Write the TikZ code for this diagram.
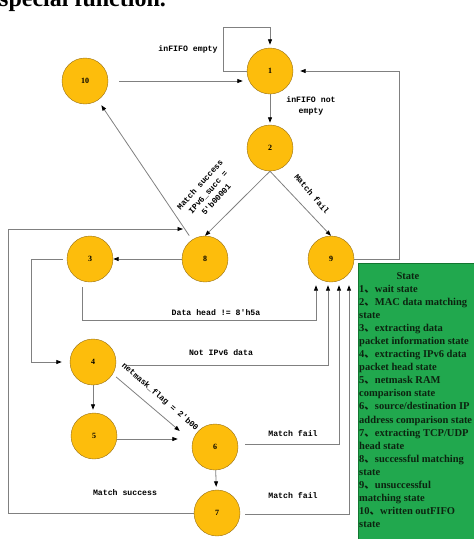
\documentclass[tikz,border=0pt]{standalone}
\usepackage{fontspec}
\setmainfont{Liberation Serif}
\newfontfamily\codefont{Liberation Mono}
\newfontfamily\cjk{Noto Sans CJK SC}
\usepackage{tikz}
\usetikzlibrary{arrows.meta,positioning,calc}
\definecolor{gold}{RGB}{253,189,12}
\definecolor{goldedge}{RGB}{150,110,20}
\definecolor{wire}{RGB}{128,128,128}
\definecolor{legendgreen}{RGB}{33,168,78}
\definecolor{legendedge}{RGB}{18,118,48}
\definecolor{legendink}{RGB}{12,36,16}
\newcommand{\dunhao}{{\cjk 、}}

\begin{document}
\begin{tikzpicture}[x=1pt,y=-1pt,
  fsm/.style={circle,draw=goldedge,fill=gold,minimum size=46pt,inner sep=0pt,font=\bfseries\fontsize{8}{9}\selectfont},
  trans/.style={draw=wire,line width=0.8pt,-{Triangle[length=5.5pt,width=4pt,color=black]}},
  cond/.style={font=\codefont\bfseries\fontsize{8.2}{11}\selectfont,inner sep=1pt,align=center},
  legendline/.style={anchor=base west,inner sep=0pt,text=legendink,font=\bfseries\fontsize{10.5}{12}\selectfont}]
\useasboundingbox (0,0) rectangle (474,539);
\clip (0,0) rectangle (474,539);
\node[anchor=base west,inner sep=0pt,font=\bfseries\fontsize{24}{26}\selectfont] (caption) at (-1,6) {special function.};
\foreach \n/\x/\y in {1/270/71,10/85/81,2/270/148,3/90/259,8/205/259,9/331/259,4/93/362,5/94/436,6/215/447,7/217/513}
   \node[fsm] (s\n) at (\x,\y) {\n};
\draw[trans,shorten >=3pt] (s1.west) -- ++(-23,0) -- ++(0,-44) -| (s1.north);
\node[cond] (lempty) at (188,49) {inFIFO empty};
\draw[trans,shorten <=11pt,shorten >=4pt] (s10.east) -- (s10.east -| s1.west);
\draw[trans,shorten >=2pt] (s1) -- (s2);
\node[cond] (lnotempty) at (311,106) {inFIFO not\\empty};
\draw[trans,shorten >=7pt] (s9.east) -- ++(45,0) |- (s1.east);
\draw[trans] (s2.south) -- (s8.north);
\draw[trans] (s2.south) -- (s9.north);
\node[cond,rotate=48] (lsucc2) at (208,192) {Match success\\IPv6\_succ =\\5'b00001};
\node[cond,rotate=-50] (lfail2) at (312,194) {Match fail};
\draw[trans,shorten <=5pt,shorten >=6pt] (s8) -- (s10);
\draw[trans] (s8) -- (s3);
\coordinate (back8) at (183,229);
\draw[trans] (s7.west) -- ++(-185,0) |- (back8);
\node[cond] (lsucc7) at (125,493) {Match success};
\draw[trans,shorten <=4pt,shorten >=8pt] (s3.west) -- ++(-35,0) |- (s4.west);
\draw[trans] ($(s3.south)+(-8,5)$) -- ++(0,33) -| ($(s9.south)+(-15,3)$);
\node[cond] (lhead) at (216,313) {Data head != 8'h5a};
\draw[trans] ($(s4.east)+(11,3)$) -| ($(s9.south)+(-3,3)$);
\node[cond] (lipv6) at (221,353) {Not IPv6 data};
\draw[trans] ($(s6.east)+(7,-3)$) -| ($(s9.south)+(8,3)$);
\node[cond] (lfail6) at (293,434) {Match fail};
\draw[trans] ($(s7.east)+(5,1)$) -| ($(s9.south)+(18,3)$);
\node[cond] (lfail7) at (293,496) {Match fail};
\draw[trans,shorten >=3pt] (s4.south) -- (s4.south |- s5.north);
\draw[trans,shorten >=14pt] ($(s5.east)+(0,3)$) -- ($(s6.west)+(0,-8)$);
\draw[trans] ($(s4.east)+(0,15)$) -- ($(s6.west)+(-12,-16)$);
\node[cond,rotate=-41] (lmask) at (160,397) {netmask\_flag = 2'b00};
\draw[trans,shorten >=3pt] (s6) -- (s7);
\node[draw=legendedge,fill=legendgreen,line width=0.8pt,anchor=north west,minimum width=130pt,minimum height=290pt] (legendbox) at (358,263) {};
\node[legendline,anchor=base] (legtitle) at (408,279) {State};
\foreach \t [count=\i from 0] in {{1\dunhao wait state},{2\dunhao MAC data matching},{state},{3\dunhao extracting data},{packet information state},{4\dunhao extracting IPv6 data},{packet head state},{5\dunhao netmask RAM},{comparison state},{6\dunhao source/destination IP},{address comparison state},{7\dunhao extracting TCP/UDP},{head state},{8\dunhao successful matching},{state},{9\dunhao unsuccessful},{matching state},{10\dunhao written outFIFO},{state}}
   \node[legendline] (leg\i) at (359,{292+13.1*\i}) {\t};
\end{tikzpicture}
\end{document}
